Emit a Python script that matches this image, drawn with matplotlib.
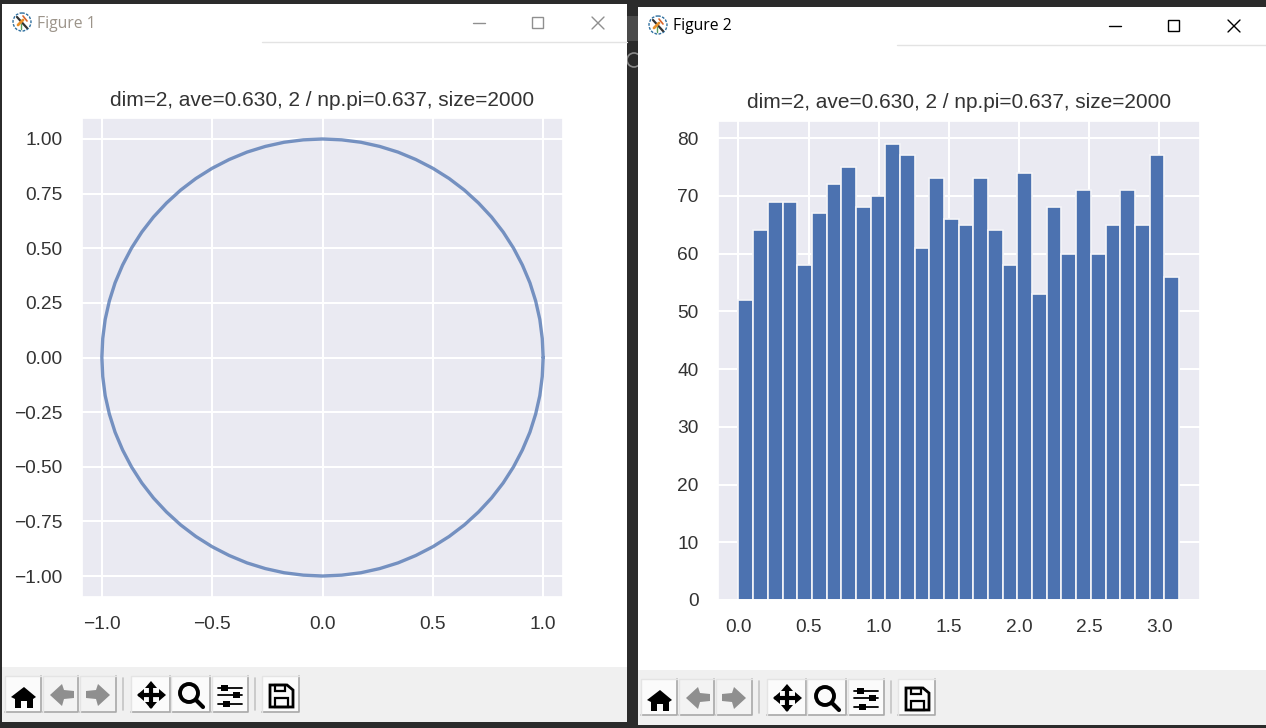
import matplotlib
matplotlib.use("Agg")
import matplotlib.pyplot as plt
from matplotlib.patches import Circle, Polygon, Rectangle
import numpy as np
import seaborn as sns

sns.set_theme()
plt.rcParams['font.family'] = ['Liberation Sans', 'DejaVu Sans']

title = "dim=2, ave=0.630, 2 / np.pi=0.637, size=2000"

# points read around the ring of the left window
ring_x = [1.000, 0.996, 0.985, 0.966, 0.940, 0.906, 0.866, 0.819, 0.766, 0.707, 0.643, 0.574,
          0.500, 0.423, 0.342, 0.259, 0.174, 0.087, 0.000, -0.087, -0.174, -0.259, -0.342, -0.423,
          -0.500, -0.574, -0.643, -0.707, -0.766, -0.819, -0.866, -0.906, -0.940, -0.966, -0.985, -0.996,
          -1.000, -0.996, -0.985, -0.966, -0.940, -0.906, -0.866, -0.819, -0.766, -0.707, -0.643, -0.574,
          -0.500, -0.423, -0.342, -0.259, -0.174, -0.087, 0.000, 0.087, 0.174, 0.259, 0.342, 0.423,
          0.500, 0.574, 0.643, 0.707, 0.766, 0.819, 0.866, 0.906, 0.940, 0.966, 0.985, 0.996, 1.000]
ring_y = [0.000, 0.087, 0.174, 0.259, 0.342, 0.423, 0.500, 0.574, 0.643, 0.707, 0.766, 0.819,
          0.866, 0.906, 0.940, 0.966, 0.985, 0.996, 1.000, 0.996, 0.985, 0.966, 0.940, 0.906,
          0.866, 0.819, 0.766, 0.707, 0.643, 0.574, 0.500, 0.423, 0.342, 0.259, 0.174, 0.087,
          0.000, -0.087, -0.174, -0.259, -0.342, -0.423, -0.500, -0.574, -0.643, -0.707, -0.766, -0.819,
          -0.866, -0.906, -0.940, -0.966, -0.985, -0.996, -1.000, -0.996, -0.985, -0.966, -0.940, -0.906,
          -0.866, -0.819, -0.766, -0.707, -0.643, -0.574, -0.500, -0.423, -0.342, -0.259, -0.174, -0.087, 0.000]

# histogram of the right window
bin_counts = [52, 64, 69, 69, 58, 67, 72, 75, 68, 70, 79, 77, 61, 73, 66,
              65, 73, 64, 58, 74, 53, 68, 60, 71, 60, 65, 71, 65, 77, 56]
bin_low = 0.0
bin_high = 3.14

W, H = 1266, 728


def axes_px(fig, left, top, right, bottom):
    return fig.add_axes([left / W, 1 - bottom / H, (right - left) / W, (bottom - top) / H])


def draw_logo(bg, cx, cy):
    bg.add_patch(Circle((cx, cy), 9, fill=False, ec="#2f6f9f", lw=1, ls=(0, (2, 1))))
    bg.plot([cx - 5, cx + 5], [cy - 5, cy + 6], color="#333333", lw=1.6)
    bg.plot([cx - 4, cx + 1], [cy + 3, cy - 2], color="#e8902a", lw=2)
    bg.plot([cx + 1, cx + 5], [cy - 6, cy - 1], color="#d9642a", lw=1.2)
    bg.plot([cx - 1, cx - 1], [cy + 2, cy + 7], color="#5aa05a", lw=1)


def draw_button(bg, x0, x1, y0, y1, fill="#fbfbfb"):
    bg.add_patch(Rectangle((x0, y0), x1 - x0, y1 - y0, fc=fill, ec="none"))
    bg.plot([x0, x1, x1], [y1, y1, y0], color="#a8a8a8", lw=1.2)
    bg.plot([x0, x0, x1], [y1, y0, y0], color="#e4e4e4", lw=1)


def draw_toolbar(bg, dx, dy):
    for x0, x1, fill in [(5, 41, "#fbfbfb"), (43, 78, "#f3f3f3"), (80, 116, "#f3f3f3"), (131, 170, "#fbfbfb"),
                         (171, 210, "#fbfbfb"), (212, 248, "#fbfbfb"), (262, 299, "#fbfbfb")]:
        draw_button(bg, x0 + dx, x1 + dx, 676 + dy, 712 + dy, fill)
    for x in [123, 255]:
        bg.plot([x + dx, x + dx], [678 + dy, 710 + dy], color="#c4c4c4", lw=1.2)

    # home
    bg.add_patch(Polygon([(11 + dx, 697 + dy), (24 + dx, 687 + dy), (36 + dx, 697 + dy), (33 + dx, 699 + dy),
                          (33 + dx, 708 + dy), (27 + dx, 708 + dy), (27 + dx, 701 + dy), (21 + dx, 701 + dy),
                          (21 + dx, 708 + dy), (15 + dx, 708 + dy), (15 + dx, 699 + dy)], fc="black", ec="none"))
    # back / forward, greyed out
    bg.add_patch(Polygon([(50 + dx, 695 + dy), (62 + dx, 684 + dy), (64 + dx, 690 + dy), (74 + dx, 691 + dy),
                          (74 + dx, 698 + dy), (64 + dx, 699 + dy), (62 + dx, 706 + dy)], fc="#8f8f8f", ec="none"))
    bg.add_patch(Polygon([(110 + dx, 695 + dy), (98 + dx, 684 + dy), (96 + dx, 690 + dy), (86 + dx, 691 + dy),
                          (86 + dx, 698 + dy), (96 + dx, 699 + dy), (98 + dx, 706 + dy)], fc="#8f8f8f", ec="none"))
    # move
    bg.plot([140 + dx, 162 + dx], [695 + dy, 695 + dy], color="black", lw=3)
    bg.plot([151 + dx, 151 + dx], [685 + dy, 706 + dy], color="black", lw=3)
    for pts in [[(137, 695), (144, 689), (144, 701)], [(166, 695), (159, 689), (159, 701)],
                [(151, 681), (145, 688), (157, 688)], [(151, 709), (145, 702), (157, 702)]]:
        bg.add_patch(Polygon([(px + dx, py + dy) for px, py in pts], fc="black", ec="none"))
    # zoom
    bg.add_patch(Circle((189 + dx, 693 + dy), 9, fill=False, ec="black", lw=2.8))
    bg.plot([196 + dx, 203 + dx], [700 + dy, 707 + dy], color="black", lw=3)
    # sliders
    for yy, xx in [(688, 224), (695, 236), (704, 226)]:
        bg.plot([218 + dx, 242 + dx], [yy + dy, yy + dy], color="black", lw=1.3)
        bg.add_patch(Rectangle((xx - 3 + dx, yy - 3 + dy), 7, 6, fc="black", ec="none"))
    # save
    bg.add_patch(Polygon([(270 + dx, 685 + dy), (287 + dx, 685 + dy), (293 + dx, 690 + dy), (293 + dx, 707 + dy),
                          (270 + dx, 707 + dy)], fc="none", ec="black", lw=2))
    bg.add_patch(Rectangle((275 + dx, 685 + dy), 10, 6, fc="none", ec="black", lw=1.6))
    bg.add_patch(Rectangle((275 + dx, 698 + dy), 13, 9, fc="none", ec="black", lw=1.6))


def draw_window(bg, left, top, right, bottom, name, name_color, button_color, line_x, bar_top):
    bg.add_patch(Rectangle((left, top), right - left, bottom - top, fc="white", ec="none"))
    bg.add_patch(Rectangle((left, bar_top), right - left, bottom - bar_top, fc="#f0f0f0", ec="none"))
    bg.plot([line_x, right], [top + 38, top + 38], color="#e3e3e3", lw=1)
    draw_logo(bg, left + 20, top + 18)
    bg.text(left + 35, top + 19.5, name, color=name_color, fontsize=11.3, va="center", family="Open Sans")
    # window buttons
    bx = left + 471
    by = top + 19
    bg.plot([bx, bx + 12], [by, by], color=button_color, lw=1)
    bg.add_patch(Rectangle((bx + 59, by - 6), 11, 11, fill=False, ec=button_color, lw=1))
    bg.plot([bx + 119, bx + 131], [by - 6, by + 6], color=button_color, lw=1)
    bg.plot([bx + 119, bx + 131], [by + 6, by - 6], color=button_color, lw=1)


fig = plt.figure(figsize=(W / 100, H / 100), dpi=100, facecolor="#2b2b2b")

bg = fig.add_axes([0, 0, 1, 1])
bg.set_xlim(0, W)
bg.set_ylim(H, 0)
bg.axis("off")
bg.add_patch(Rectangle((627, 16), 11, 25, fc="#4a4a4a", ec="none"))
bg.add_patch(Circle((634, 60), 7, fill=False, ec="#8c8c8c", lw=1.2))

draw_window(bg, 2, 4, 627, 722, "Figure 1", "#9c948a", "#8f8f8f", 262, 667)
draw_window(bg, 638, 7, 1266, 725, "Figure 2", "black", "black", 897, 670)
draw_toolbar(bg, 0, 0)
draw_toolbar(bg, 636, 3)

ax1 = axes_px(fig, 82, 118, 563, 597)
ax1.plot(ring_x, ring_y, "-", color="#4c72b0", lw=2.4, alpha=0.75)
ax1.set_xlim(-1.09, 1.09)
ax1.set_ylim(-1.096, 1.096)
ax1.set_xticks([-1.0, -0.5, 0.0, 0.5, 1.0])
ax1.set_yticks([-1.0, -0.75, -0.5, -0.25, 0.0, 0.25, 0.5, 0.75, 1.0])
ax1.set_yticklabels(["\u22121.00", "\u22120.75", "\u22120.50", "\u22120.25", "0.00", "0.25", "0.50", "0.75", "1.00"])
ax1.set_title(title, fontsize=15, color="#333333", pad=9)

ax2 = axes_px(fig, 718, 121, 1200, 600)
edges = np.linspace(bin_low, bin_high, len(bin_counts) + 1)
ax2.bar(edges[:-1], bin_counts, width=np.diff(edges), align="edge", color="#4c72b0", edgecolor="#f4f4f8", linewidth=1.2)
ax2.set_xlim(-0.146, 3.29)
ax2.set_ylim(0, 82.95)
ax2.set_xticks([0.0, 0.5, 1.0, 1.5, 2.0, 2.5, 3.0])
ax2.set_yticks(range(0, 81, 10))
ax2.set_title(title, fontsize=15, color="#333333", pad=9)

for ax in (ax1, ax2):
    ax.set_axisbelow(True)
    ax.grid(True, color="white", lw=1.5)
    ax.tick_params(labelsize=13.8, colors="#333333", length=0, pad=14)

fig.savefig("out.png", dpi=100, facecolor=fig.get_facecolor())
